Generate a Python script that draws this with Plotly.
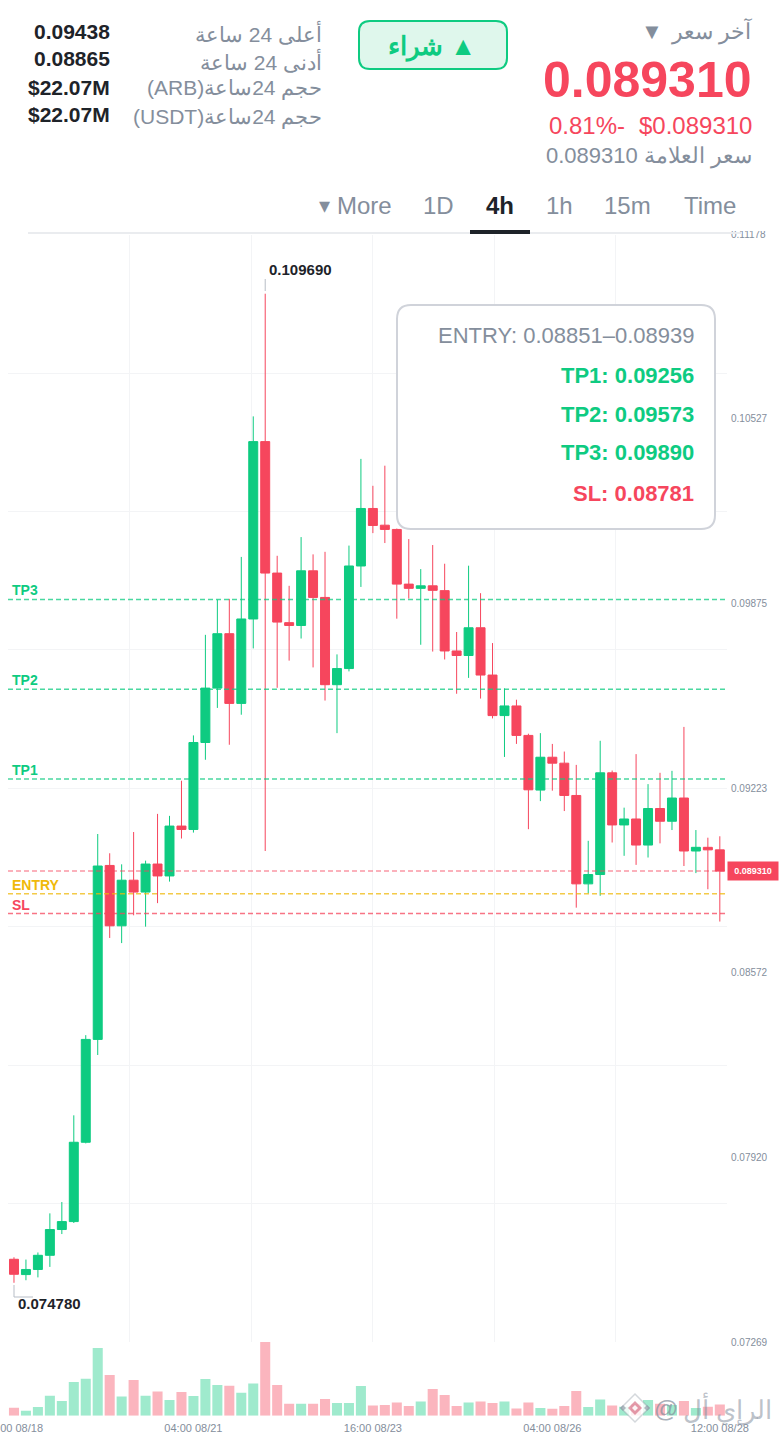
import plotly.graph_objects as go

W, H = 780, 1434

# candles, 4h bars from 16:00 08/18
opens = [0.07561, 0.07507, 0.07525, 0.07575, 0.07666, 0.07694, 0.07974, 0.08337, 0.08951, 0.08738,
         0.08899, 0.08857, 0.08956, 0.08914, 0.09090, 0.09078, 0.09385, 0.09577, 0.09769, 0.09523,
         0.09821, 0.10447, 0.09983, 0.09808, 0.09798, 0.09991, 0.09897, 0.09589, 0.09646, 0.10008,
         0.10211, 0.10152, 0.10137, 0.09944, 0.09929, 0.09938, 0.09921, 0.09708, 0.09692, 0.09790,
         0.09623, 0.09480, 0.09514, 0.09410, 0.09217, 0.09333, 0.09312, 0.09198, 0.08886, 0.08919,
         0.09278, 0.09094, 0.09115, 0.09023, 0.09152, 0.09107, 0.09189, 0.09002, 0.09015, 0.09006]
highs = [0.07568, 0.07560, 0.07585, 0.07723, 0.07763, 0.08069, 0.08352, 0.09062, 0.08994, 0.08955,
         0.09069, 0.08968, 0.09133, 0.09126, 0.09250, 0.09410, 0.09765, 0.09889, 0.09892, 0.10040,
         0.10536, 0.10969, 0.10044, 0.09938, 0.10110, 0.10049, 0.10058, 0.09696, 0.10080, 0.10386,
         0.10291, 0.10362, 0.10140, 0.10103, 0.09997, 0.10082, 0.10016, 0.09775, 0.10009, 0.09912,
         0.09736, 0.09576, 0.09536, 0.09416, 0.09418, 0.09380, 0.09353, 0.09306, 0.09038, 0.09391,
         0.09286, 0.09155, 0.09344, 0.09238, 0.09278, 0.09285, 0.09440, 0.09076, 0.09049, 0.09054]
lows = [0.07478, 0.07487, 0.07497, 0.07534, 0.07650, 0.07689, 0.07970, 0.08282, 0.08695, 0.08677,
        0.08775, 0.08735, 0.08818, 0.08894, 0.09046, 0.09067, 0.09324, 0.09507, 0.09377, 0.09483,
        0.09717, 0.09002, 0.09578, 0.09674, 0.09752, 0.09650, 0.09533, 0.09418, 0.09636, 0.09934,
        0.10124, 0.10089, 0.09822, 0.09893, 0.09730, 0.09706, 0.09678, 0.09557, 0.09613, 0.09540,
        0.09470, 0.09334, 0.09380, 0.09079, 0.09178, 0.09215, 0.09143, 0.08802, 0.08853, 0.08844,
        0.09032, 0.08985, 0.08953, 0.08979, 0.09029, 0.09076, 0.08949, 0.08924, 0.08867, 0.08753]
closes = [0.07508, 0.07525, 0.07575, 0.07666, 0.07694, 0.07974, 0.08337, 0.08949, 0.08738, 0.08899,
          0.08857, 0.08956, 0.08914, 0.09090, 0.09078, 0.09385, 0.09577, 0.09769, 0.09523, 0.09821,
          0.10447, 0.09983, 0.09810, 0.09798, 0.09991, 0.09897, 0.09589, 0.09646, 0.10008, 0.10211,
          0.10151, 0.10137, 0.09944, 0.09929, 0.09938, 0.09922, 0.09708, 0.09692, 0.09790, 0.09623,
          0.09480, 0.09514, 0.09410, 0.09218, 0.09333, 0.09312, 0.09198, 0.08886, 0.08919, 0.09278,
          0.09094, 0.09115, 0.09023, 0.09152, 0.09107, 0.09189, 0.09002, 0.09015, 0.09006, 0.08931]
volumes = [8, 5, 8.7, 20, 14.7, 33.7, 37, 67.7, 40.7, 19.3,
           35.7, 20, 24.3, 15.7, 23.7, 19.7, 36.7, 30.7, 30, 23,
           32.3, 73.7, 30.7, 12, 12, 12, 16.7, 12.7, 12.7, 29.7,
           10.3, 10.7, 13.3, 9.7, 14.3, 26.7, 20.7, 9.7, 13.3, 14.3,
           12.7, 14.3, 7.3, 13.3, 7.7, 7, 9.7, 24.7, 8.7, 16.3,
           10.3, 9, 12, 15.7, 12, 10.7, 14.7, 7.7, 9, 11.3]
bar_idx = list(range(len(closes)))

time_tick_idx = [0, 15, 30, 45, 59]
time_tick_labels = ['16:00 08/18', '04:00 08/21', '16:00 08/23', '04:00 08/26', '12:00 08/28']
price_ticks = [0.11178, 0.10527, 0.09875, 0.09223, 0.08572, 0.07920, 0.07269]
price_grid = [0.11178, 0.10689, 0.10201, 0.09712, 0.09223, 0.08735, 0.08246, 0.07758, 0.07269]
time_grid = [-0.5, 9.64, 19.83, 30.0, 40.2, 50.3]

level_names = ['TP3', 'TP2', 'TP1', 'ENTRY', 'SL']
level_prices = [0.09890, 0.09573, 0.09256, 0.08851, 0.08781]
last_price = 0.08931
high_price = 0.10969
low_price = 0.07478

GREEN = '#0ecb81'
RED = '#f6465d'
AMBER = '#f0b90b'
GREY = '#848e9c'
DARK = '#1e2329'
FONT = 'Liberation Sans'
level_colors = [GREEN, GREEN, GREEN, AMBER, RED]

x_range = [-0.5, 59.6]


def xp(px):
    return px / W


def yp(py):
    return 1 - py / H


def label(px, py, text, size, color, anchor='right', bold=False):
    """ header / box text, placed in page pixels """
    if anchor == 'right':
        px += 1  # annotations keep a 1px inset
    return dict(xref='paper', yref='paper', x=xp(px), y=yp(py), xanchor=anchor,
                yanchor='middle', showarrow=False, borderpad=0,
                text=f'<b>{text}</b>' if bold else text,
                font=dict(family=FONT, size=size, color=color))


def round_rect(x0, y0, x1, y1, r, **kwargs):
    a, b, c, d = xp(x0), yp(y0), xp(x1), yp(y1)
    rx, ry = r / W, r / H
    path = (f'M {a + rx} {b} L {c - rx} {b} Q {c} {b} {c} {b - ry} '
            f'L {c} {d + ry} Q {c} {d} {c - rx} {d} L {a + rx} {d} '
            f'Q {a} {d} {a} {d + ry} L {a} {b - ry} Q {a} {b} {a + rx} {b} Z')
    return dict(type='path', xref='paper', yref='paper', path=path, layer='above', **kwargs)


def diamond(cx, cy, r, line=None, **kwargs):
    path = (f'M {xp(cx - r)} {yp(cy)} L {xp(cx)} {yp(cy - r)} '
            f'L {xp(cx + r)} {yp(cy)} L {xp(cx)} {yp(cy + r)} Z')
    return dict(type='path', xref='paper', yref='paper', path=path, layer='above',
                line=line or dict(width=0), **kwargs)


fig = go.Figure()

fig.add_trace(go.Candlestick(
    x=bar_idx, open=opens, high=highs, low=lows, close=closes,
    increasing=dict(line=dict(color=GREEN, width=1), fillcolor=GREEN),
    decreasing=dict(line=dict(color=RED, width=1), fillcolor=RED),
    hoverinfo='skip',
))

# target / stop levels sit on top of the candles
for price, color in zip(level_prices, level_colors):
    fig.add_trace(go.Scatter(x=x_range, y=[price, price], mode='lines', hoverinfo='skip',
                             line=dict(color=color, width=1.5, dash='5px,3px'), opacity=0.75))
fig.add_trace(go.Scatter(x=[-0.5, 59.66], y=[last_price, last_price], mode='lines', hoverinfo='skip',
                         line=dict(color=RED, width=1.5, dash='5px,3px'), opacity=0.55))

bar_colors = ['rgba(14,203,129,0.4)' if c >= o else 'rgba(246,70,93,0.4)'
              for o, c in zip(opens, closes)]
fig.add_trace(go.Bar(x=bar_idx, y=volumes, marker=dict(color=bar_colors, line=dict(width=0)),
                     xaxis='x2', yaxis='y2', hoverinfo='skip'))

annotations = [
    # top right block
    label(752, 32, 'آخر سعر', 22, GREY),
    label(663, 32, '▼', 22, GREY),
    label(752, 80, '0.089310', 50, RED, bold=True),
    label(752, 126, '$0.089310', 24, RED),
    label(625, 126, '0.81%-', 24, RED),
    label(752, 156, '0.089310 سعر العلامة', 22, GREY),
    # button
    label(432, 46, '\u202b▲ شراء', 26, GREEN, anchor='center', bold=True),
    # 24h stats
    label(322, 33, 'أعلى 24 ساعة', 21, GREY),
    label(322, 61, 'أدنى 24 ساعة', 21, GREY),
    label(322, 89, '\u202bحجم 24ساعة(ARB)', 21, GREY),
    label(322, 117, '\u202bحجم 24ساعة(USDT)', 21, GREY),
    label(110, 31, '0.09438', 21, DARK, bold=True),
    label(110, 59, '0.08865', 21, DARK, bold=True),
    label(110, 87, '$22.07M', 21, DARK, bold=True),
    label(110, 115, '$22.07M', 21, DARK, bold=True),
    # interval tabs
    label(324, 206, '▾', 22, GREY, anchor='center'),
    label(364, 206, 'More', 24, GREY, anchor='center'),
    label(438.5, 206, '1D', 24, GREY, anchor='center'),
    label(500, 206, '4h', 24, DARK, anchor='center', bold=True),
    label(559.5, 206, '1h', 24, GREY, anchor='center'),
    label(627.5, 206, '15m', 24, GREY, anchor='center'),
    label(710, 206, 'Time', 24, GREY, anchor='center'),
    # signal box
    label(694, 335, 'ENTRY: 0.08851–0.08939', 22, GREY),
    label(694, 375, 'TP1: 0.09256', 22, GREEN, bold=True),
    label(694, 415, 'TP2: 0.09573', 22, GREEN, bold=True),
    label(694, 453, 'TP3: 0.09890', 22, GREEN, bold=True),
    label(694, 493, 'SL: 0.08781', 22, RED, bold=True),
    # watermark
    label(772, 1409, 'الرإي أل', 26, 'rgba(132,142,156,0.55)'),
    label(678, 1408, '@', 24, 'rgba(132,142,156,0.7)'),
    # high / low flags
    dict(xref='x', yref='y', x=21, y=high_price, xanchor='left', yanchor='middle', showarrow=False,
         xshift=2, yshift=24, text='<b>0.109690</b>', font=dict(family=FONT, size=15, color=DARK)),
    dict(xref='x', yref='y', x=0, y=low_price, xanchor='left', yanchor='middle', showarrow=False,
         xshift=2, yshift=-21, text='<b>0.074780</b>', font=dict(family=FONT, size=15, color=DARK)),
    # last price tag
    dict(xref='paper', yref='y', x=xp(753), y=last_price, xanchor='center', yanchor='middle',
         showarrow=False, width=50, height=18, bgcolor=RED, borderpad=0,
         text='<b>0.089310</b>', font=dict(family=FONT, size=9, color='white')),
]

for name, price, color in zip(level_names, level_prices, level_colors):
    annotations.append(dict(xref='paper', yref='y', x=xp(11), y=price, xanchor='left',
                            yanchor='bottom', showarrow=False, borderpad=0, yshift=0,
                            text=f'<b>{name}</b>', font=dict(family=FONT, size=14, color=color)))

shapes = [
    # header background hides the clipped top tick label
    dict(type='rect', xref='paper', yref='paper', x0=0, x1=1, y0=yp(231), y1=1, layer='above',
         fillcolor='white', line=dict(width=0)),
    dict(type='line', xref='paper', yref='paper', x0=xp(28), x1=xp(742), y0=yp(233), y1=yp(233),
         layer='above', line=dict(color='#eaecef', width=2)),
    dict(type='rect', xref='paper', yref='paper', x0=xp(470), x1=xp(530), y0=yp(230), y1=yp(234),
         layer='above', fillcolor=DARK, line=dict(width=0)),
    round_rect(359, 21, 507, 69, 11, fillcolor='#dff7ec', line=dict(color=GREEN, width=2)),
    round_rect(397, 305, 715, 529, 14, fillcolor='white', line=dict(color='#d0d3da', width=2)),
    # flag stems
    dict(type='line', xref='x', yref='paper', x0=21, x1=21, y0=yp(279), y1=yp(291), layer='above',
         line=dict(color='#b7bdc6', width=1)),
    dict(type='path', xref='paper', yref='paper', layer='above', line=dict(color='#b7bdc6', width=1),
         path=f'M {xp(14)} {yp(1285)} L {xp(14)} {yp(1297)} L {xp(33)} {yp(1297)}'),
    # watermark logo
    diamond(635, 1408, 14, fillcolor='rgba(255,255,255,0.8)',
            line=dict(color='rgba(132,142,156,0.35)', width=1.5)),
    diamond(635, 1408, 7, fillcolor='rgba(200,60,90,0.5)'),
    diamond(635, 1408, 3, fillcolor='rgba(255,255,255,0.9)'),
    diamond(623, 1408, 3, fillcolor='rgba(132,142,156,0.6)'),
    diamond(647, 1408, 3, fillcolor='rgba(132,142,156,0.6)'),
]

GRID = '#f3f4f6'
fig.update_layout(
    width=W, height=H, margin=dict(l=0, r=0, t=0, b=0, autoexpand=False),
    paper_bgcolor='white', plot_bgcolor='white',
    showlegend=False, boxgap=0.25, boxgroupgap=0, bargap=0.16,
    font=dict(family=FONT),
    annotations=annotations, shapes=shapes,
    xaxis=dict(domain=[xp(8), xp(727)], range=x_range, anchor='y', rangeslider=dict(visible=False),
               tickmode='array', tickvals=[], showgrid=False, zeroline=False,
               showticklabels=False,
               minor=dict(tickmode='array', tickvals=time_grid, showgrid=True,
                          gridcolor=GRID, gridwidth=1, ticks='')),
    yaxis=dict(domain=[yp(1342), yp(234.5)], range=[0.07269, 0.11178], side='right', anchor='x',
               tickmode='array', tickvals=price_ticks, tickformat='.5f', showgrid=False,
               zeroline=False, ticks='outside', ticklen=1, tickcolor='rgba(0,0,0,0)',
               tickfont=dict(family=FONT, size=10, color=GREY), ticklabeloverflow='allow',
               minor=dict(tickmode='array', tickvals=price_grid, showgrid=True,
                          gridcolor=GRID, gridwidth=1, ticks='')),
    xaxis2=dict(domain=[xp(8), xp(727)], range=x_range, anchor='y2', tickmode='array',
                tickvals=time_tick_idx, ticktext=time_tick_labels, showgrid=False, zeroline=False,
                ticks='outside', ticklen=2, tickcolor='rgba(0,0,0,0)', ticklabeloverflow='allow',
                tickangle=0, tickfont=dict(family=FONT, size=11, color=GREY)),
    yaxis2=dict(domain=[yp(1415.7), yp(1342)], range=[0, 73.7], anchor='x2',
                showgrid=False, zeroline=False, showticklabels=False, ticks=''),
)

fig.write_html("out.html", config=dict(displayModeBar=False),
               post_script="document.body.style.margin='0';document.documentElement.style.overflow='hidden';")
